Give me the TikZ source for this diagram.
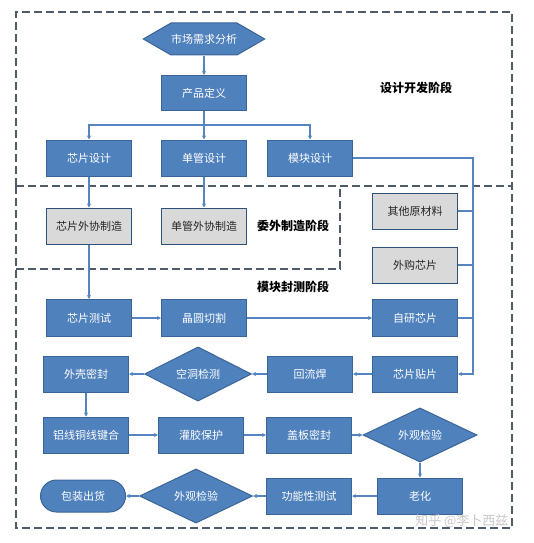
\documentclass[tikz,border=0pt]{standalone}
\usepackage{fontspec}
\setmainfont{Noto Sans CJK SC}
\usetikzlibrary{shapes.geometric,shapes.symbols,arrows.meta}
\definecolor{boxblue}{HTML}{4F81BD}
\definecolor{boxedge}{HTML}{3A6598}
\definecolor{linkblue}{HTML}{5585C0}
\definecolor{boxgray}{HTML}{D9D9D9}
\definecolor{stagegray}{HTML}{4F5B6B}
\tikzset{
  proc/.style={rectangle, draw=boxedge, fill=boxblue, line width=1pt, text=white,
    minimum width=85pt, minimum height=36pt, inner sep=0pt},
  ext/.style={proc, fill=boxgray, draw=boxedge!80!black, text=black!85},
  dec/.style={diamond, draw=boxedge, fill=boxblue, line width=1pt, text=white,
    minimum width=107pt, minimum height=50pt, inner sep=0pt},
  flow/.style={draw=linkblue, line width=1.3pt, -{Stealth[length=4pt,width=4pt]}},
  link/.style={draw=linkblue, line width=1.3pt},
  stage/.style={draw=stagegray, line width=1.2pt, dash pattern=on 8pt off 4pt},
  phase/.style={font=\fontsize{12}{14}\selectfont\bfseries, text=black}
}
\begin{document}
\begin{tikzpicture}[x=1pt,y=-1pt,font=\fontsize{11}{13}\selectfont]
\useasboundingbox (0,0) rectangle (534,543);
% stages
\draw[stage] (16,186) -- (16,12) -- (512,12) -- (512,186);
\draw[stage] (16,186) -- (512,186);
\draw[stage] (16,186) -- (16,528) -- (512,528) -- (512,186);
\draw[stage] (16,269) -- (340,269) -- (340,186);
\node[phase] (designlbl) at (416,88) {设计开发阶段};
\node[phase] (outlbl) at (293,226) {委外制造阶段};
\node[phase] (packlbl) at (293,287) {模块封测阶段};
% design
\node[signal, signal to=east and west, signal pointer angle=60, fill=boxblue, draw=boxedge,
  line width=1pt, text=white, minimum width=116pt, minimum height=32pt, inner sep=0pt]
  (market) at (204,39) {市场需求分析};
\node[proc, minimum height=35pt] (define) at (204,93) {产品定义};
\node[proc] (chipdes) at (89,158) {芯片设计};
\node[proc] (tubedes) at (204,158) {单管设计};
\node[proc] (moddes) at (310,158) {模块设计};
% outsourcing and materials
\node[ext] (chipfab) at (89,226) {芯片外协制造};
\node[ext] (tubefab) at (204,226) {单管外协制造};
\node[ext] (rawmat) at (415,211) {其他原材料};
\node[ext] (buychip) at (415,265) {外购芯片};
% packaging and test
\node[proc, minimum height=37pt] (chiptest) at (89,318) {芯片测试};
\node[proc, minimum height=37pt] (dicing) at (204,318) {晶圆切割};
\node[proc, minimum height=37pt] (ownchip) at (415,318) {自研芯片};
\node[proc] (mount) at (415,374) {芯片贴片};
\node[proc] (reflow) at (310,374) {回流焊};
\node[dec] (voidchk) at (198,374) {空洞检测};
\node[proc] (housing) at (86,374) {外壳密封};
\node[proc] (bonding) at (86,435) {铝线铜线键合};
\node[proc] (potting) at (201,435) {灌胶保护};
\node[proc] (lidseal) at (309,435) {盖板密封};
\node[dec, minimum width=114pt, minimum height=48pt] (visual) at (420,435) {外观检验};
\node[proc] (aging) at (420,496) {老化};
\node[proc] (functest) at (309,496) {功能性测试};
\node[dec, minimum width=113pt] (visualb) at (196,496) {外观检验};
\node[proc, rounded corners=16pt, minimum height=32pt] (ship) at (83,496) {包装出货};
% connectors
\draw[flow] (market) -- (define);
\coordinate (split) at (204,125);
\draw[link] (define) -- (split);
\draw[flow] (split) -| (chipdes.north);
\draw[flow] (split) -| (moddes.north);
\draw[flow] (split) -- (tubedes);
\foreach \a/\b in {chipdes/chipfab, tubedes/tubefab, chipfab/chiptest, chiptest/dicing,
    dicing/ownchip, mount/reflow, reflow/voidchk, voidchk/housing, housing/bonding,
    bonding/potting, potting/lidseal, lidseal/visual, visual/aging, aging/functest,
    functest/visualb, visualb/ship}
  \draw[flow] (\a) -- (\b);
\coordinate (bus) at (473,158);
\draw[flow] (moddes.east) -- (bus) |- (mount.east);
\foreach \s in {rawmat, buychip, ownchip}
  \draw[link] (\s.east) -- (\s.east -| bus);
\node[text=black!22, font=\fontsize{13}{13}\selectfont, anchor=east] (mark) at (512,521) {知乎 @李卜西兹};
\end{tikzpicture}
\end{document}
